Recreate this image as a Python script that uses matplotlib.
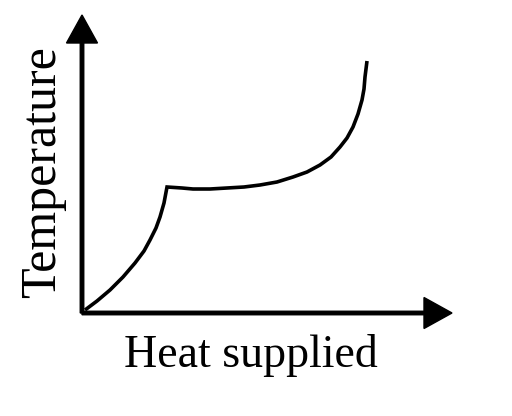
import matplotlib
matplotlib.use("Agg")
import matplotlib.pyplot as plt

# curve (heat supplied, temperature), in arbitrary units
heat = [3, 15, 28, 41, 53, 62, 68, 74, 78, 82, 85,
        100, 111, 128, 145, 162, 178, 195, 211, 225, 238, 249, 258,
        265, 271, 276, 280, 282, 283, 284, 285]
temp = [3, 12, 23, 36, 50, 62, 73, 85, 96, 110, 126,
        125, 124, 124, 125, 126, 128, 131, 136, 141, 148, 156, 166,
        175, 186, 199, 213, 224, 236, 244, 252]

x_label = "Heat supplied"
y_label = "Temperature"

fig = plt.figure(figsize=(5.12, 4.16), dpi=100)
ax = fig.add_axes([0, 0, 1, 1])
ax.set_xlim(-82, 430)
ax.set_ylim(-103, 313)
ax.axis("off")

# axes with arrow heads
ax.arrow(0, 0, 0, 298, width=3.5, head_width=31, head_length=28,
         length_includes_head=True, color="black")
ax.arrow(0, 0, 370, 0, width=3.5, head_width=31, head_length=28,
         length_includes_head=True, color="black")

ax.plot(heat, temp, color="black", lw=2.6, solid_capstyle="butt",
        solid_joinstyle="miter")

ax.text(169, -54, x_label, fontsize=33, family="Liberation Serif",
        ha="center", va="baseline")
ax.text(-39, 141, y_label, fontsize=36, family="Liberation Serif",
        ha="center", va="center", rotation=90)

fig.savefig("out.png", dpi=100)
